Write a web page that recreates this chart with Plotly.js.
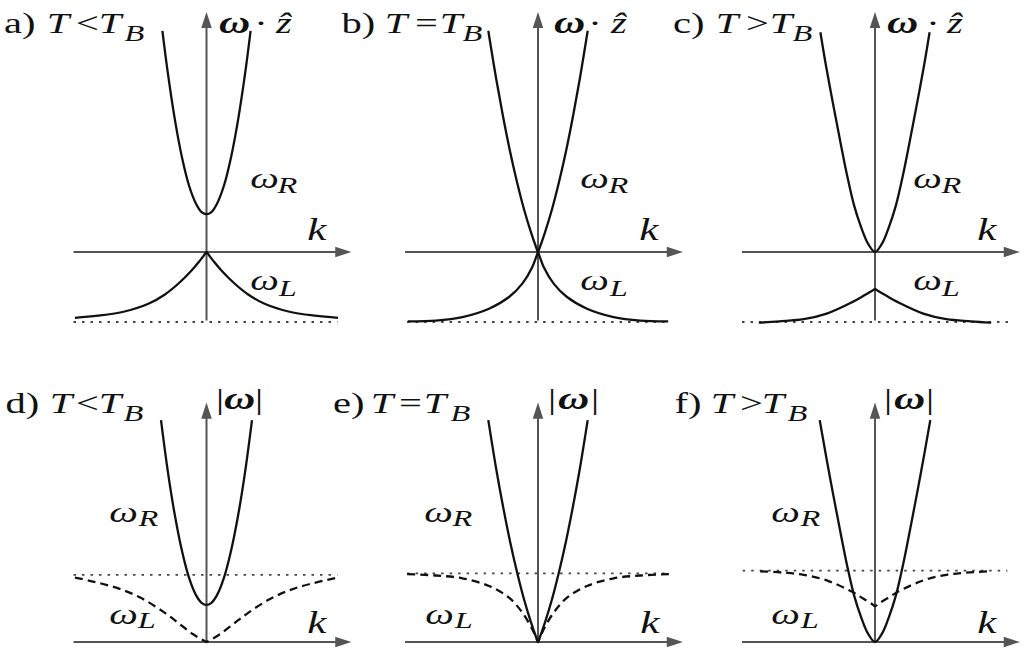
<!DOCTYPE html>
<html><head><meta charset="utf-8">
<script src="https://cdn.plot.ly/plotly-3.0.1.min.js"></script>
<style>html,body{margin:0;padding:0;background:#fff;}#chart{width:1025px;height:653px;}</style>
</head><body><div id="chart"></div>
<script>
// ---------- data (k and omega in arbitrary units) ----------
// a) T < T_B  (omega . z)
const aR_k = [-0.63,-0.55,-0.45,-0.35,-0.25,-0.15,-0.07,0,0.07,0.15,0.25,0.35,0.45,0.55,0.63];
const aR_w = [3.16,2.54,1.88,1.35,0.95,0.69,0.57,0.54,0.57,0.69,0.95,1.35,1.88,2.54,3.16];
const aL_k = [-1.88,-1.55,-1.17,-0.83,-0.60,-0.40,-0.21,-0.10,-0.02,0,0.02,0.10,0.21,0.40,0.60,0.83,1.17,1.55,1.88];
const aL_w = [-0.94,-0.91,-0.85,-0.74,-0.61,-0.45,-0.26,-0.13,-0.026,0,-0.026,-0.13,-0.26,-0.45,-0.61,-0.74,-0.85,-0.91,-0.94];
// b) T = T_B
const bR_k = [-0.71,-0.60,-0.50,-0.40,-0.30,-0.20,-0.10,-0.02,0,0.02,0.10,0.20,0.30,0.40,0.50,0.60,0.71];
const bR_w = [3.16,2.49,1.94,1.44,1.00,0.61,0.28,0.05,0,0.05,0.28,0.61,1.00,1.44,1.94,2.49,3.16];
const bL_k = [-1.86,-1.46,-1.08,-0.70,-0.414,-0.224,-0.081,-0.02,0,0.02,0.081,0.224,0.414,0.70,1.08,1.46,1.86];
const bL_w = [-0.99,-0.98,-0.93,-0.81,-0.643,-0.452,-0.214,-0.055,0,-0.055,-0.214,-0.452,-0.643,-0.81,-0.93,-0.98,-0.99];
// c) T > T_B
const cR_k = [-0.78,-0.70,-0.60,-0.50,-0.40,-0.30,-0.20,-0.10,0,0.10,0.20,0.30,0.40,0.50,0.60,0.70,0.78];
const cR_w = [3.14,2.66,2.12,1.60,1.10,0.67,0.36,0.12,0,0.12,0.36,0.67,1.10,1.60,2.12,2.66,3.14];
const cL_k = [-1.66,-1.37,-1.02,-0.69,-0.333,-0.17,-0.04,0,0.04,0.17,0.333,0.69,1.02,1.37,1.66];
const cL_w = [-1.01,-0.99,-0.96,-0.88,-0.72,-0.63,-0.555,-0.53,-0.555,-0.63,-0.72,-0.88,-0.96,-0.99,-1.01];
// d) T < T_B  (|omega|)
const dR_k = [-0.65,-0.55,-0.45,-0.35,-0.25,-0.15,-0.07,0,0.07,0.15,0.25,0.35,0.45,0.55,0.65];
const dR_w = [3.17,2.42,1.80,1.30,0.92,0.67,0.56,0.53,0.56,0.67,0.92,1.30,1.80,2.42,3.17];
const dL_k = [-1.88,-1.52,-1.20,-0.90,-0.60,-0.40,-0.19,-0.02,0,0.02,0.19,0.40,0.60,0.90,1.20,1.52,1.88];
const dL_w = [0.92,0.84,0.745,0.61,0.42,0.27,0.11,0.01,0,0.01,0.11,0.27,0.42,0.61,0.745,0.84,0.92];
// e) T = T_B
const eR_k = [-0.71,-0.60,-0.50,-0.40,-0.30,-0.20,-0.10,-0.02,0,0.02,0.10,0.20,0.30,0.40,0.50,0.60,0.71];
const eR_w = [3.17,2.49,1.94,1.44,1.00,0.61,0.28,0.05,0,0.05,0.28,0.61,1.00,1.44,1.94,2.49,3.17];
const eL_k = [-1.87,-1.46,-1.08,-0.70,-0.414,-0.224,-0.08,-0.02,0,0.02,0.08,0.224,0.414,0.70,1.08,1.46,1.87];
const eL_w = [0.97,0.95,0.91,0.80,0.633,0.42,0.18,0.045,0,0.045,0.18,0.42,0.633,0.80,0.91,0.95,0.97];
// f) T > T_B
const fR_k = [-0.79,-0.70,-0.60,-0.50,-0.40,-0.30,-0.20,-0.10,0,0.10,0.20,0.30,0.40,0.50,0.60,0.70,0.79];
const fR_w = [3.17,2.66,2.12,1.60,1.10,0.67,0.36,0.12,0,0.12,0.36,0.67,1.10,1.60,2.12,2.66,3.17];
const fL_k = [-1.64,-1.30,-1.02,-0.69,-0.333,-0.17,-0.04,0,0.04,0.17,0.333,0.69,1.02,1.30,1.64];
const fL_w = [1.01,0.99,0.96,0.88,0.72,0.62,0.54,0.51,0.54,0.62,0.72,0.88,0.96,0.99,1.01];
// asymptotes (dotted) and their k-extent
const asymptotes = [-1.0,-1.0,-1.0,0.96,0.98,1.02];
const asymFrom   = [-1.90,-1.87,-1.90,-1.90,-1.87,-1.89];
const asymTo     = [ 1.87, 1.86, 1.90, 1.87, 1.86, 1.89];
// text pieces
const panelLetters = ['a)','b)','c)','d)','e)','f)'];
const relations    = ['&lt;','=','&gt;','&lt;','=','&gt;'];
const tempSym = 'T', bathSub = 'B';
const omegaSym = 'ω', zHat = 'ẑ', dotOp = '·', barSym = '|', kSym = 'k', subR = 'R', subL = 'L';

// ---------- layout geometry ----------
const W = 1025, H = 653, S = 70;           // px per unit
const colPx = [206.5, 538, 875];           // y-axis positions
const rowPx = [252, 642];                  // k-axis positions
const rowBand = [[0, 330], [335, 653]];
const AX_TAIL = -1.9, AX_TIP = 2.07;
const V_TOP_TIP = [3.43, 3.42], V_BOTTOM = [-0.98, 0];

const curves = [
  [aR_k,aR_w,aL_k,aL_w],[bR_k,bR_w,bL_k,bL_w],[cR_k,cR_w,cL_k,cL_w],
  [dR_k,dR_w,dL_k,dL_w],[eR_k,eR_w,eL_k,eL_w],[fR_k,fR_w,fL_k,fL_w]
];

// text positions: x centre and baseline, in px
const titleBase = [33, 413], titleSubBase = [41.5, 421.5];
const letterX = [19, 358, 688, 22, 348, 688];
const t1X     = [59.5, 397, 728, 62.5, 383, 723];
const relX    = [87, 426, 757, 87.5, 410, 751];
const t2X     = [111.5, 452, 782, 111.5, 436, 774];
const bX      = [134, 472, 802, 133, 460, 797];
const vOmegaX = [234, 569, 902.5, 239, 573.5, 909];
const vDotX   = [261, 595, 933];
const vZX     = [283, 618, 954.5];
const vBar1X  = [220, 552, 888], vBar2X = [259, 594.5, 930];
const vBase   = [33, 409];
const rOmX = [264.5, 594.5, 927.5, 123.5, 438.5, 785], rSubX = [287, 618, 951, 147.5, 462, 810];
const rBase = [188, 522], rSubBase = [193, 526];
const lOmX = [264.5, 594.5, 927.5, 123, 439, 785], lSubX = [287, 618, 950, 146, 462.5, 808.5];
const lBase = [290, 624], lSubBase = [296, 628];
const kX = [317.5, 649, 987, 317.5, 650, 987.5], kBase = [240, 633];

const AXC = '#555';
const FONT = 'Liberation Serif, Times New Roman, serif';
const MAIN = 30, SUB = 24, KSIZE = 32, BOLDW = 32;
const traces = [];
const layout = {width:W, height:H, margin:{l:0,r:0,t:0,b:0}, paper_bgcolor:'#fff',
  plot_bgcolor:'rgba(0,0,0,0)', showlegend:false, annotations:[]};

// place a text by its centre x and its baseline y (px)
function txt(cx, base, text, size, style, weight){
  const cy = base - 0.3375*size;
  layout.annotations.push({xref:'paper', yref:'paper', x:cx/W, y:1-cy/H, xanchor:'center', yanchor:'middle',
    text:text, showarrow:false, borderpad:0,
    font:{family:FONT, size:size, color:'#111', style:style||'normal', weight:weight||'normal'}});
}

for (let i = 0; i < 6; i++){
  const row = i < 3 ? 0 : 1, col = i % 3;
  const n = i === 0 ? '' : String(i+1);
  const ox = colPx[col], oy = rowPx[row];
  const [pt, pb] = rowBand[row];
  layout['xaxis'+n] = {domain:[(ox-145)/W, (ox+150)/W], range:[-145/S, 150/S], visible:false, fixedrange:true};
  layout['yaxis'+n] = {domain:[1-pb/H, 1-pt/H], range:[(oy-pb)/S, (oy-pt)/S], visible:false, fixedrange:true};
  const xr = 'x'+n, yr = 'y'+n;
  traces.push({type:'scatter', mode:'lines', xaxis:xr, yaxis:yr, x:[AX_TAIL, AX_TIP-0.12], y:[0,0],
    line:{color:AXC, width:2}, hoverinfo:'skip'});
  traces.push({type:'scatter', mode:'lines', xaxis:xr, yaxis:yr, x:[0,0], y:[V_BOTTOM[row], V_TOP_TIP[row]-0.12],
    line:{color:AXC, width:2}, hoverinfo:'skip'});
  traces.push({type:'scatter', mode:'markers', xaxis:xr, yaxis:yr, x:[AX_TIP, 0], y:[0, V_TOP_TIP[row]],
    marker:{symbol:'arrow', angle:[90, 0], size:17, color:AXC, line:{width:0}}, hoverinfo:'skip'});
  traces.push({type:'scatter', mode:'lines', xaxis:xr, yaxis:yr,
    x:[asymFrom[i], asymTo[i]], y:[asymptotes[i], asymptotes[i]],
    line:{color:'#444', width:1.8, dash:'2.5px,6px'}, hoverinfo:'skip'});
  const [rk, rw, lk, lw] = curves[i];
  traces.push({type:'scatter', mode:'lines', xaxis:xr, yaxis:yr, x:lk, y:lw,
    line:{color:'#111', width:2.3, shape:'spline', smoothing:1, dash: row===0 ? 'solid' : '8px,5px'}, hoverinfo:'skip'});
  traces.push({type:'scatter', mode:'lines', xaxis:xr, yaxis:yr, x:rk, y:rw,
    line:{color:'#111', width:2.3, shape:'spline', smoothing:1}, hoverinfo:'skip'});

  // panel title: "a) T < T_B"
  txt(letterX[i], titleBase[row], panelLetters[i], MAIN);
  txt(t1X[i], titleBase[row], tempSym, MAIN, 'italic');
  txt(relX[i], titleBase[row], relations[i], MAIN);
  txt(t2X[i], titleBase[row], tempSym, MAIN, 'italic');
  txt(bX[i], titleSubBase[row], bathSub, SUB, 'italic');
  // vertical-axis label
  if (row === 0){
    txt(vOmegaX[i], vBase[0], omegaSym, BOLDW, 'italic', 'bold');
    txt(vDotX[col], vBase[0], dotOp, MAIN);
    txt(vZX[col], vBase[0], zHat, MAIN, 'italic');
  } else {
    txt(vBar1X[col], vBase[1], barSym, MAIN);
    txt(vOmegaX[i], vBase[1], omegaSym, BOLDW, 'italic', 'bold');
    txt(vBar2X[col], vBase[1], barSym, MAIN);
  }
  // branch labels and k
  txt(rOmX[i], rBase[row], omegaSym, MAIN, 'italic');
  txt(rSubX[i], rSubBase[row], subR, SUB, 'italic');
  txt(lOmX[i], lBase[row], omegaSym, MAIN, 'italic');
  txt(lSubX[i], lSubBase[row], subL, SUB, 'italic');
  txt(kX[i], kBase[row], kSym, KSIZE, 'italic');
}

Plotly.newPlot('chart', traces, layout, {staticPlot:true, displayModeBar:false}).then(function(gd){
  gd.querySelectorAll('.annotation-text').forEach(function(t){
    t.style.transformBox = 'fill-box';
    t.style.transformOrigin = 'center';
    t.style.transform = 'scaleX(1.35)';
  });
});
</script>
</body></html>
